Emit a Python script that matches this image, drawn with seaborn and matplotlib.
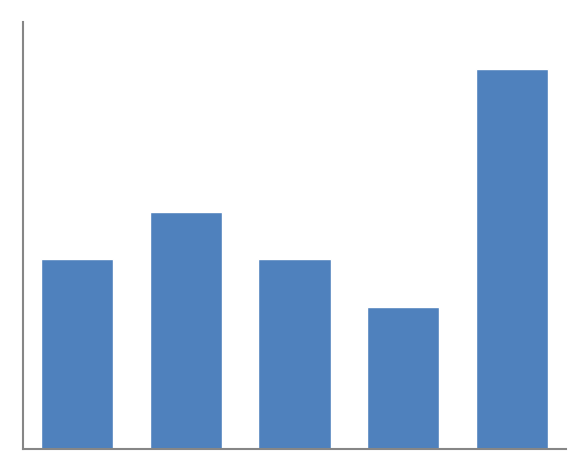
import matplotlib
matplotlib.use("Agg")
import matplotlib.pyplot as plt
import seaborn as sns

categories = ["A", "B", "C", "D", "E"]
values = [4, 5, 4, 3, 8]

sns.set_style("white")
fig = plt.figure(figsize=(5.87, 4.70), dpi=100)
ax = fig.add_axes([23 / 587, 21 / 470, 543 / 587, 427 / 470])
sns.barplot(x=categories, y=values, color="#4F81BD", saturation=1, width=0.665, ax=ax)
ax.set_xlim(-0.5, 4.5)
ax.set_ylim(0, 9)
ax.set_xticks([])
ax.set_yticks([])
ax.set_xlabel("")
ax.set_ylabel("")
for s in ["top", "right"]:
    ax.spines[s].set_visible(False)
for s in ["left", "bottom"]:
    ax.spines[s].set_color("#868686")
    ax.spines[s].set_linewidth(1.5)
fig.savefig("out.png", dpi=100)
